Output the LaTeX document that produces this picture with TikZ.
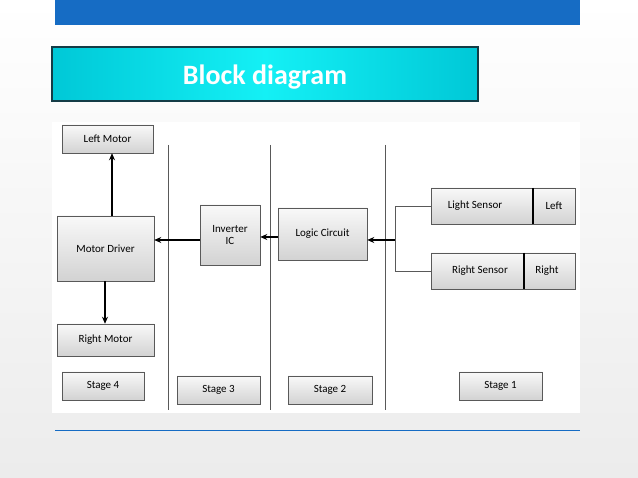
\documentclass[tikz,border=0pt]{standalone}
\usepackage{fontspec}
\setmainfont{Carlito}
\usetikzlibrary{arrows.meta}
\definecolor{topblue}{RGB}{22,108,196}
\definecolor{cyanA}{RGB}{0,200,215}
\definecolor{cyanB}{RGB}{20,240,245}
\definecolor{tborder}{RGB}{20,60,70}
\begin{document}
\begin{tikzpicture}[x=1pt,y=-1pt,
  blk/.style={draw=gray!70!black,line width=0.5pt,top color=white!95!gray,bottom color=gray!35,font=\fontsize{11}{12}\selectfont,inner sep=0pt,align=center},
  lab/.style={font=\fontsize{11}{12}\selectfont},
  arr/.style={-{Stealth[length=7pt,width=6pt]},line width=1.5pt,black},
  ln/.style={gray!70!black,line width=0.7pt}]
\useasboundingbox (0,0) rectangle (638,478);
\shade[top color=white,bottom color=gray!15] (0,0) rectangle (638,478);
\fill[topblue] (55,0) rectangle (580,25);
\shade[left color=cyanA,right color=cyanA,middle color=cyanB] (52,47) rectangle (478,101);
\draw[line width=1.5pt,tborder] (52,47) rectangle (478,101);
\node[text=white,font=\fontsize{28}{30}\selectfont\bfseries] (title) at (265,77) {Block diagram};
\fill[white] (52,122) rectangle (580,413);
\draw[topblue,line width=1pt] (55,431) -- (580,431);
\draw[ln] (168,145) -- (168,410);
\draw[ln] (270,145) -- (270,410);
\draw[ln] (385,145) -- (385,410);
\node[blk,minimum width=91,minimum height=28] (lm) at (107.5,139) {Left Motor};
\node[blk,minimum width=97,minimum height=65] (md) at (105.5,248.5) {Motor Driver};
\node[blk,minimum width=97,minimum height=32] (rm) at (105.5,340) {Right Motor};
\node[blk,minimum width=60,minimum height=60] (inv) at (230,235) {Inverter\\IC};
\node[blk,minimum width=89,minimum height=52] (lc) at (322.5,234) {Logic Circuit};
\node[blk,minimum width=144,minimum height=36] (ls) at (503,206) {};
\node[lab] (lst) at (475,206) {Light Sensor};
\node[lab] (lsl) at (554,206) {Left};
\draw[line width=1.5pt] (533,188) -- (533,224);
\node[blk,minimum width=144,minimum height=36] (rs) at (503,271) {};
\node[lab] (rst) at (480,271) {Right Sensor};
\node[lab] (rsr) at (547,271) {Right};
\draw[line width=1.5pt] (524,253) -- (524,289);
\node[blk,minimum width=82,minimum height=28] (s4) at (103,386) {Stage 4};
\node[blk,minimum width=83,minimum height=28] (s3) at (218.5,390) {Stage 3};
\node[blk,minimum width=84,minimum height=28] (s2) at (330,390) {Stage 2};
\node[blk,minimum width=83,minimum height=28] (s1) at (500.5,386) {Stage 1};
\coordinate (j) at (395,240);
\draw[arr] ([xshift=6.5pt]md.north) -- ([xshift=4.5pt]lm.south);
\draw[arr] ([xshift=-0.5pt]md.south) -- ([xshift=-0.5pt]rm.north);
\draw[arr] (inv.west |- 0,240) -- (md.east |- 0,240);
\draw[arr] (lc.west |- 0,237) -- (inv.east |- 0,237);
\draw[arr] (j) -- (lc.east |- j);
\draw[ln] (ls.west) -| (395,271) -- (rs.west);
\draw[line width=1.5pt] (385,240) -- (j);
\end{tikzpicture}
\end{document}
